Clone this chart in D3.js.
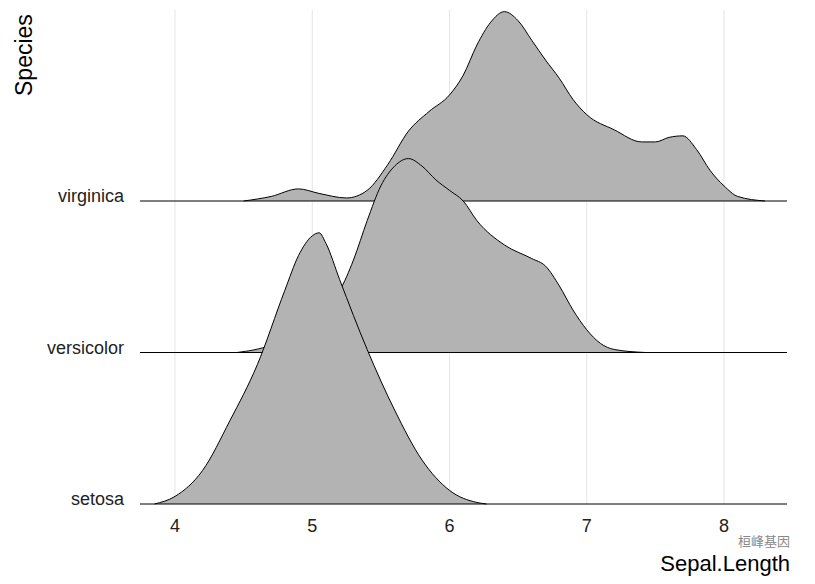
<!DOCTYPE html><html><head><meta charset="utf-8"><script src="https://cdn.jsdelivr.net/npm/d3@7"></script>
<style>body{margin:0;background:#fff}</style></head><body><svg id="c" width="815" height="584"></svg><script>
const species=["setosa","versicolor","virginica"];
const xTicks=[4,5,6,7,8];
const setosaX=[3.85,4.0,4.2,4.4,4.6,4.8,4.9,5.0,5.05,5.1,5.2,5.4,5.6,5.8,6.0,6.2,6.27];
const setosaD=[0,0.05,0.22,0.55,0.92,1.41,1.64,1.77,1.79,1.72,1.48,1.02,0.62,0.29,0.09,0.01,0];
const versiX=[4.45,4.7,4.9,5.1,5.2,5.3,5.4,5.5,5.6,5.7,5.8,5.9,6.0,6.1,6.2,6.4,6.6,6.7,6.8,6.9,7.0,7.1,7.2,7.43];
const versiD=[0,0.05,0.15,0.31,0.41,0.61,0.87,1.10,1.23,1.28,1.23,1.14,1.07,1.00,0.87,0.71,0.62,0.57,0.44,0.28,0.15,0.06,0.02,0];
const virgX=[4.5,4.7,4.9,5.05,5.25,5.4,5.55,5.7,5.85,6.0,6.1,6.2,6.3,6.4,6.5,6.6,6.7,6.8,6.9,7.0,7.2,7.4,7.5,7.6,7.7,7.8,7.9,8.0,8.1,8.3];
const virgD=[0,0.03,0.08,0.05,0.02,0.07,0.24,0.46,0.59,0.70,0.83,1.03,1.18,1.25,1.19,1.06,0.93,0.81,0.67,0.57,0.47,0.39,0.39,0.42,0.43,0.34,0.20,0.10,0.03,0];
const series=[[virgX,virgD,"virginica"],[versiX,versiD,"versicolor"],[setosaX,setosaD,"setosa"]];
const svg=d3.select("#c");
const x=d3.scaleLinear().domain([4,8]).range([175,724]);
const y=d3.scalePoint().domain(species).range([504,201]);
const h=151.5;
const L=140,R=787;
const F="Liberation Sans, Arial";
svg.append("g").selectAll("line").data(xTicks).join("line").attr("x1",d=>x(d)).attr("x2",d=>x(d)).attr("y1",10).attr("y2",504).attr("stroke","#e5e5e5");
series.forEach(([xs,ds,s])=>{
  const b=y(s);
  const pts=xs.map((v,i)=>[x(v),b-ds[i]*h]);
  const area=d3.area().x(d=>d[0]).y0(b).y1(d=>d[1]).curve(d3.curveMonotoneX);
  svg.append("path").attr("d",area(pts)).attr("fill","#b3b3b3");
  svg.append("path").attr("d",d3.line().curve(d3.curveMonotoneX)(pts)).attr("fill","none").attr("stroke","#000").attr("stroke-width",1);
  svg.append("line").attr("x1",L).attr("x2",R).attr("y1",b).attr("y2",b).attr("stroke","#000");
  svg.append("text").attr("x",124).attr("y",b+1).attr("text-anchor","end").attr("font-family",F).attr("font-size",18).attr("fill","#222").text(s);
});
svg.append("g").selectAll("text").data(xTicks).join("text").attr("x",d=>x(d)).attr("y",532).attr("text-anchor","middle").attr("font-family",F).attr("font-size",18).attr("fill","#222").text(d=>d);
svg.append("text").attr("transform","translate(32,96) rotate(-90)").attr("font-family",F).attr("font-size",23).attr("fill","#000").text("Species");
svg.append("text").attr("x",790).attr("y",571).attr("text-anchor","end").attr("font-family",F).attr("font-size",22).attr("fill","#000").text("Sepal.Length");
svg.append("text").attr("x",790).attr("y",546).attr("text-anchor","end").attr("font-family","Noto Sans CJK SC").attr("font-size",13).attr("fill","#888").text("桓峰基因");
</script></body></html>
